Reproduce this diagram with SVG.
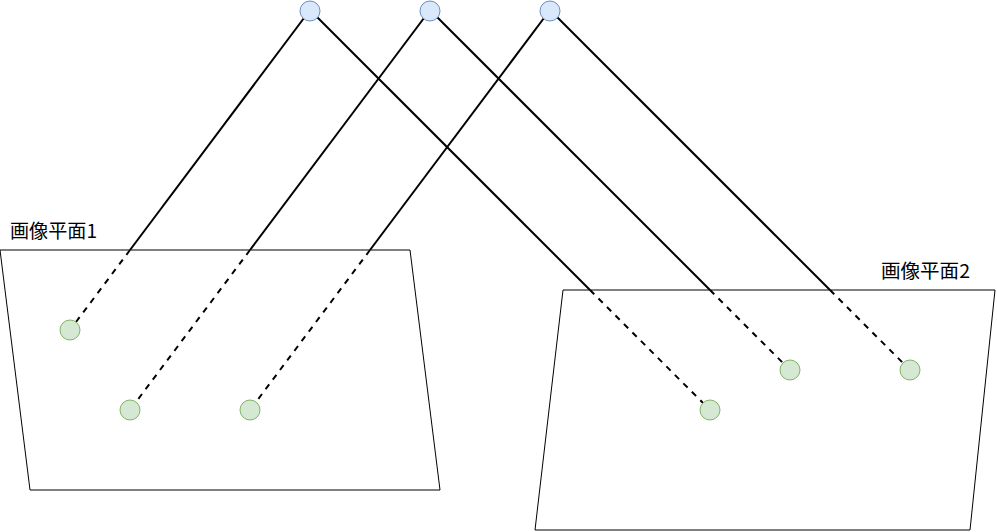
<svg xmlns="http://www.w3.org/2000/svg" width="997" height="532" viewBox="0 0 997 532">
<style>
.plane{fill:#fff;stroke:#000;stroke-width:1}
.solid{stroke:#000;stroke-width:2;fill:none}
.dash{stroke:#000;stroke-width:2;fill:none;stroke-dasharray:6 6}
.top{fill:#dae8fc;stroke:#6c8ebf;stroke-width:1}
.pt{fill:#d5e8d4;stroke:#82b366;stroke-width:1}
.lbl{font-family:"Noto Sans CJK JP","Liberation Sans",sans-serif;font-size:19px;fill:#000}
</style>
<rect width="997" height="532" fill="#fff"/>
<g id="plane1">
<polygon class="plane" points="0,250 410,250 440,490 30,490"/>
<text class="lbl" x="10" y="238" textLength="87" lengthAdjust="spacingAndGlyphs">画像平面1</text>
</g>
<g id="plane2">
<polygon class="plane" points="563,290 995,290 970,530 535,530"/>
<text class="lbl" x="881" y="278" textLength="89" lengthAdjust="spacingAndGlyphs">画像平面2</text>
</g>
<g id="connectors">
<line class="solid" x1="310" y1="10" x2="130" y2="250"/>
<line class="dash" x1="130" y1="250" x2="70" y2="330"/>
<line class="solid" x1="310" y1="10" x2="590" y2="290"/>
<line class="dash" x1="590" y1="290" x2="710" y2="410"/>
<line class="solid" x1="430" y1="10" x2="250" y2="250"/>
<line class="dash" x1="250" y1="250" x2="130" y2="410"/>
<line class="solid" x1="430" y1="10" x2="710" y2="290"/>
<line class="dash" x1="710" y1="290" x2="790" y2="370"/>
<line class="solid" x1="550" y1="10" x2="370" y2="250"/>
<line class="dash" x1="370" y1="250" x2="250" y2="410"/>
<line class="solid" x1="550" y1="10" x2="830" y2="290"/>
<line class="dash" x1="830" y1="290" x2="910" y2="370"/>
</g>
<g id="c1"><circle class="top" cx="310" cy="11" r="10"/></g>
<g id="c2"><circle class="top" cx="430" cy="11" r="10"/></g>
<g id="c3"><circle class="top" cx="550" cy="11" r="10"/></g>
<g id="p1"><circle class="pt" cx="70" cy="330" r="10"/></g>
<g id="p2"><circle class="pt" cx="130" cy="410" r="10"/></g>
<g id="p3"><circle class="pt" cx="250" cy="410" r="10"/></g>
<g id="p4"><circle class="pt" cx="710" cy="410" r="10"/></g>
<g id="p5"><circle class="pt" cx="790" cy="370" r="10"/></g>
<g id="p6"><circle class="pt" cx="910" cy="370" r="10"/></g>
</svg>
